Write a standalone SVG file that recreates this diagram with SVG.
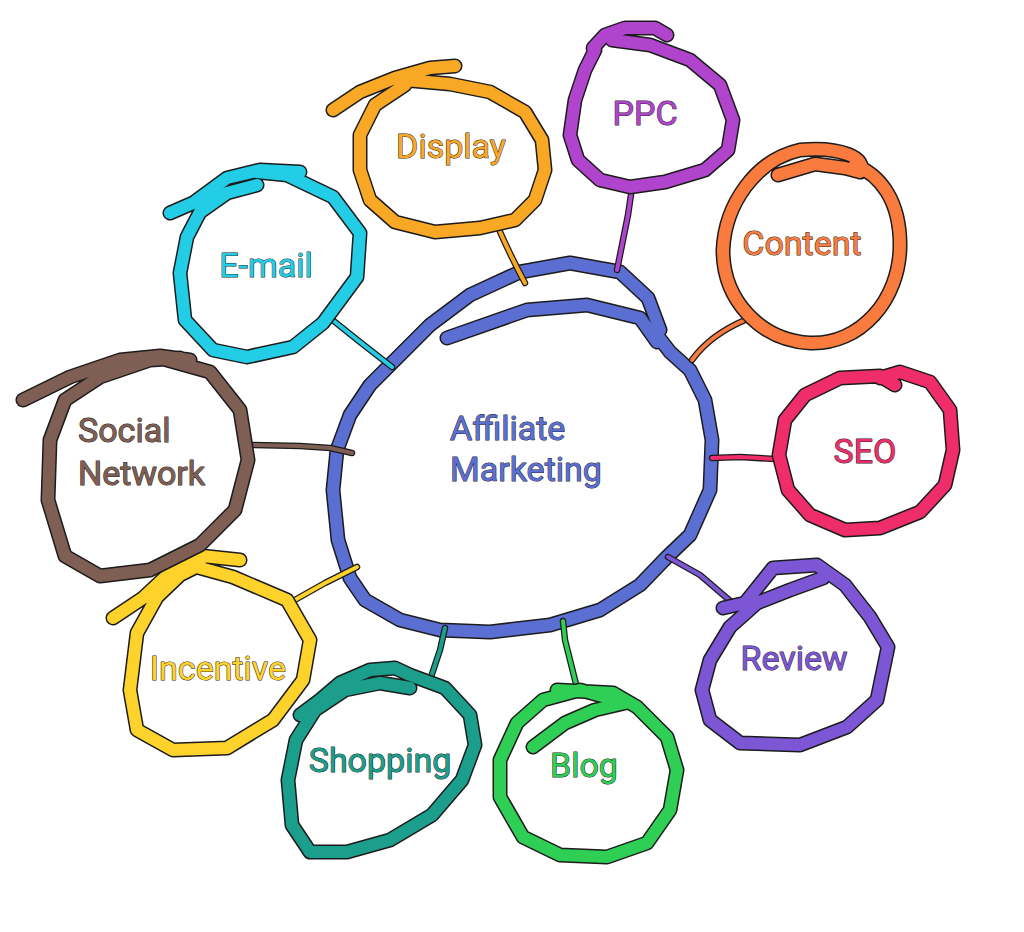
<svg xmlns="http://www.w3.org/2000/svg" xmlns:xlink="http://www.w3.org/1999/xlink" width="1024" height="932" viewBox="0 0 1024 932">
<style>
  .ol{fill:none;stroke:#1c1c1c;stroke-width:15;stroke-linecap:round;stroke-linejoin:round}
  .ln{fill:none;stroke-width:12;stroke-linecap:round;stroke-linejoin:round}
  .col{fill:none;stroke:#1c1c1c;stroke-width:6.5;stroke-linecap:round;stroke-linejoin:round}
  .cln{fill:none;stroke-width:4;stroke-linecap:round;stroke-linejoin:round}
  text{font-family:Roboto,"Liberation Sans",sans-serif;font-size:34px;stroke:#1c1c1c;stroke-width:1;paint-order:stroke;stroke-linejoin:round}
  .mid{text-anchor:middle}
</style>
<defs>
  <path id="p-center" d="M447,338 L527,310 L587,305 L640,318 L657,342 M653,330 L670,352 L690,370 L705,400 L712,440 L710,490 L690,535 L667,557 L640,585 L600,610 L550,625 L490,632 L440,630 L400,620 L365,600 L350,578 L338,540 L333,490 L337,450 L350,415 L370,385 L395,360 L430,325 L470,295 L520,272 L570,263 L620,272 L648,298 L660,330"/>
  <path id="p-display" d="M333,110 L360,92 L395,78 L430,68 L455,66 M405,80 L450,84 L490,92 L525,112 L542,140 L545,170 L535,200 L515,220 L480,228 L435,232 L395,222 L370,200 L360,170 L360,135 L375,105 L405,85"/>
  <path id="p-ppc" d="M593,48 L605,35 L625,28 L655,28 L667,35 M612,40 L650,45 L690,60 L720,85 L733,120 L728,150 L705,170 L665,182 L630,187 L600,180 L578,160 L570,135 L575,100 L585,70 L595,50"/>
  <path id="p-content" d="M778,175 L815,164 L845,168 L860,172 C868,158 840,146 800,150 C755,160 725,205 723,250 C723,300 760,340 810,343 C860,345 900,300 900,245 C900,200 880,175 855,165"/>
  <path id="p-seo" d="M880,378 L900,372 L930,382 L950,410 L953,450 L945,485 L920,512 L880,528 L845,530 L810,515 L788,490 L779,455 L785,420 L805,395 L840,378 L880,376 L895,385"/>
  <path id="p-review" d="M723,608 L745,603 L773,568 L817,565 L845,585 L870,617 L888,647 L877,700 L847,727 L800,745 L740,743 L710,720 L702,690 L710,660 L730,627 L757,603 L790,590 L823,578"/>
  <path id="p-blog" d="M533,747 L565,723 L595,710 L625,703 M557,690 L613,693 L637,707 L667,737 L677,770 L670,810 L647,843 L607,857 L560,855 L523,837 L500,797 L500,760 L517,723 L543,700 L580,690 L617,700"/>
  <path id="p-shopping" d="M300,715 L320,700 L340,683 L370,670 L395,668 L410,675 L445,688 L470,715 L475,745 L462,780 L432,815 L390,840 L347,852 L310,852 L292,825 L288,780 L296,740 L315,710 L345,690 L380,683 L410,688"/>
  <path id="p-incentive" d="M113,618 L143,598 L173,570 L193,555 L240,560 M193,566 L233,577 L287,600 L310,640 L303,680 L273,720 L227,748 L173,750 L137,730 L130,690 L137,633 L157,597 L180,575 L200,565"/>
  <path id="p-social" d="M23,400 L70,377 L120,360 L160,356 L190,360 M160,358 L210,372 L240,410 L248,460 L235,510 L200,545 L150,570 L100,576 L65,556 L48,500 L50,440 L65,400 L100,377 L150,360 L180,358"/>
  <path id="p-email" d="M170,213 L193,203 L227,178 L260,170 L300,172 M257,172 L287,175 L333,197 L360,233 L357,277 L323,323 L293,347 L247,357 L213,350 L185,320 L180,273 L187,237 L200,212 L227,193 L257,185"/>
</defs>
<rect width="1024" height="932" fill="#ffffff"/>

<g id="node-center">
  <use href="#p-center" class="ol"/>
  <use href="#p-center" class="ln" stroke="#5b6fd3"/>
  <text x="450" y="440" fill="#5b6fd3">Affiliate</text>
  <text x="450" y="481" fill="#5b6fd3">Marketing</text>
</g>

<g id="connectors">
  <path class="col" d="M497,225 Q510,255 525,283"/><path class="cln" stroke="#f9a825" d="M497,225 Q510,255 525,283"/>
  <path class="col" d="M632,188 L628,215 L622,245 L617,270"/><path class="cln" stroke="#b044cc" d="M632,188 L628,215 L622,245 L617,270"/>
  <path class="col" d="M745,320 Q710,335 692,360"/><path class="cln" stroke="#f97b3d" d="M745,320 Q710,335 692,360"/>
  <path class="col" d="M712,458 L740,457 L775,459"/><path class="cln" stroke="#ef2d6b" d="M712,458 L740,457 L775,459"/>
  <path class="col" d="M668,557 L700,575 L735,605"/><path class="cln" stroke="#7d56d6" d="M668,557 L700,575 L735,605"/>
  <path class="col" d="M563,621 L565,640 L570,660 L577,688"/><path class="cln" stroke="#2fce55" d="M563,621 L565,640 L570,660 L577,688"/>
  <path class="col" d="M445,628 L440,650 L430,680"/><path class="cln" stroke="#1b9f8c" d="M445,628 L440,650 L430,680"/>
  <path class="col" d="M357,567 L325,583 L293,601"/><path class="cln" stroke="#fdd22b" d="M357,567 L325,583 L293,601"/>
  <path class="col" d="M250,445 L300,446 L330,448 L352,453"/><path class="cln" stroke="#7f5e53" d="M250,445 L300,446 L330,448 L352,453"/>
  <path class="col" d="M330,318 L360,342 L392,367"/><path class="cln" stroke="#23cde6" d="M330,318 L360,342 L392,367"/>
</g>

<g id="node-display">
  <use href="#p-display" class="ol"/><use href="#p-display" class="ln" stroke="#f9a825"/>
  <text x="451" y="158" class="mid" fill="#f9a825">Display</text>
</g>
<g id="node-ppc">
  <use href="#p-ppc" class="ol"/><use href="#p-ppc" class="ln" stroke="#b044cc"/>
  <text x="645" y="125" class="mid" fill="#b044cc">PPC</text>
</g>
<g id="node-content">
  <use href="#p-content" class="ol"/><use href="#p-content" class="ln" stroke="#f97b3d"/>
  <text x="802" y="255" class="mid" fill="#f97b3d">Content</text>
</g>
<g id="node-seo">
  <use href="#p-seo" class="ol"/><use href="#p-seo" class="ln" stroke="#ef2d6b"/>
  <text x="865" y="463" class="mid" fill="#ef2d6b">SEO</text>
</g>
<g id="node-review">
  <use href="#p-review" class="ol"/><use href="#p-review" class="ln" stroke="#7d56d6"/>
  <text x="794" y="670" class="mid" fill="#7d56d6">Review</text>
</g>
<g id="node-blog">
  <use href="#p-blog" class="ol"/><use href="#p-blog" class="ln" stroke="#2fce55"/>
  <text x="584" y="777" class="mid" fill="#2fce55">Blog</text>
</g>
<g id="node-shopping">
  <use href="#p-shopping" class="ol"/><use href="#p-shopping" class="ln" stroke="#1b9f8c"/>
  <text x="380" y="772" class="mid" fill="#1b9f8c">Shopping</text>
</g>
<g id="node-incentive">
  <use href="#p-incentive" class="ol"/><use href="#p-incentive" class="ln" stroke="#fdd22b"/>
  <text x="218" y="680" class="mid" fill="#fdd22b">Incentive</text>
</g>
<g id="node-social">
  <use href="#p-social" class="ol"/><use href="#p-social" class="ln" stroke="#7f5e53"/>
  <text x="78" y="442" fill="#7f5e53">Social</text>
  <text x="78" y="485" fill="#7f5e53">Network</text>
</g>
<g id="node-email">
  <use href="#p-email" class="ol"/><use href="#p-email" class="ln" stroke="#23cde6"/>
  <text x="266" y="277" class="mid" fill="#23cde6">E-mail</text>
</g>
</svg>
